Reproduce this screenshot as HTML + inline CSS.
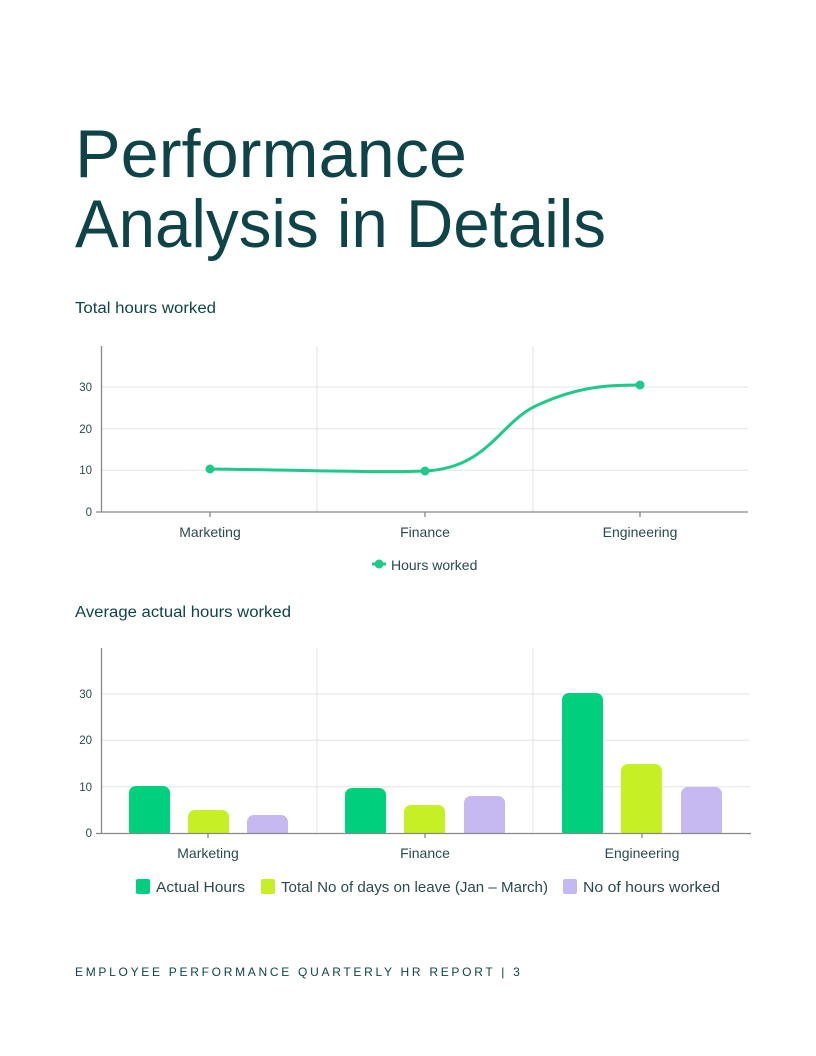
<!DOCTYPE html>
<html><head><meta charset="utf-8"><style>
html,body{margin:0;padding:0;background:#fff;}
svg{display:block;font-family:"Liberation Sans",sans-serif;}
</style></head><body>
<svg width="816" height="1056" viewBox="0 0 816 1056" xmlns="http://www.w3.org/2000/svg">
<rect width="816" height="1056" fill="#fff"/>
<g fill="#0e4448">
<text x="75" y="177" font-size="68" textLength="392" lengthAdjust="spacingAndGlyphs">Performance</text>
<text x="75" y="247" font-size="68" textLength="531" lengthAdjust="spacingAndGlyphs">Analysis in Details</text>
<text x="75" y="313" font-size="15.5" textLength="141" lengthAdjust="spacingAndGlyphs">Total hours worked</text>
<text x="75" y="617" font-size="15.5" textLength="216" lengthAdjust="spacingAndGlyphs">Average actual hours worked</text>
<text x="75" y="976" font-size="12" letter-spacing="3.2" textLength="448" lengthAdjust="spacing">EMPLOYEE PERFORMANCE QUARTERLY HR REPORT | 3</text>
</g>
<!-- line chart -->
<g stroke="#e3e3e3" stroke-width="1">
<line x1="101" y1="387" x2="748" y2="387"/><line x1="101" y1="428.7" x2="748" y2="428.7"/><line x1="101" y1="470.3" x2="748" y2="470.3"/>
<line x1="317" y1="346" x2="317" y2="512"/><line x1="533" y1="346" x2="533" y2="512"/>
</g>
<g stroke="#888" stroke-width="1.3">
<line x1="101.5" y1="346" x2="101.5" y2="512"/><line x1="96" y1="512" x2="748" y2="512"/>
<line x1="210" y1="512" x2="210" y2="517"/><line x1="425" y1="512" x2="425" y2="517"/><line x1="640" y1="512" x2="640" y2="517"/>
</g>
<g fill="#2a4a4e" font-size="11.5" text-anchor="end">
<text x="92" y="391">30</text><text x="92" y="433">20</text><text x="92" y="474">10</text><text x="92" y="516">0</text>
</g>
<g fill="#2a4a4e" font-size="14" text-anchor="middle">
<text x="210" y="537">Marketing</text><text x="425" y="537">Finance</text><text x="640" y="537">Engineering</text>
</g>
<path d="M210 469 C300 470 380 473 425 471 C490 468 500 420 540 404 C580 386 610 385 640 385" fill="none" stroke="#1fc987" stroke-width="3"/>
<g fill="#1fc987"><circle cx="210" cy="469" r="4.5"/><circle cx="425" cy="471" r="4.5"/><circle cx="640" cy="385" r="4.5"/>
<line x1="372" y1="564" x2="386" y2="564" stroke="#1fc987" stroke-width="3"/><circle cx="379" cy="564" r="4.5"/></g>
<text x="391" y="570" fill="#2a4a4e" font-size="14">Hours worked</text>
<!-- bar chart -->
<g stroke="#e3e3e3" stroke-width="1">
<line x1="101" y1="694" x2="750" y2="694"/><line x1="101" y1="740.3" x2="750" y2="740.3"/><line x1="101" y1="786.7" x2="750" y2="786.7"/>
<line x1="317" y1="648" x2="317" y2="833"/><line x1="533" y1="648" x2="533" y2="833"/>
</g>
<g fill="#2a4a4e" font-size="11.5" text-anchor="end">
<text x="92" y="698">30</text><text x="92" y="744">20</text><text x="92" y="791">10</text><text x="92" y="837">0</text>
</g>
<g>
<rect x="129" y="786" width="41" height="52" rx="7" fill="#00d07e"/>
<rect x="188" y="810" width="41" height="28" rx="7" fill="#c5f026"/>
<rect x="247" y="815" width="41" height="23" rx="7" fill="#c6b8f0"/>
<rect x="345" y="788" width="41" height="50" rx="7" fill="#00d07e"/>
<rect x="404" y="805" width="41" height="33" rx="7" fill="#c5f026"/>
<rect x="464" y="796" width="41" height="42" rx="7" fill="#c6b8f0"/>
<rect x="562" y="693" width="41" height="145" rx="7" fill="#00d07e"/>
<rect x="621" y="764" width="41" height="74" rx="7" fill="#c5f026"/>
<rect x="681" y="787" width="41" height="51" rx="7" fill="#c6b8f0"/>
</g>
<rect x="101" y="834" width="650" height="8" fill="#fff"/>
<g stroke="#888" stroke-width="1.3">
<line x1="101.5" y1="648" x2="101.5" y2="833"/><line x1="96" y1="833.5" x2="751" y2="833.5"/>
<line x1="208" y1="833" x2="208" y2="838"/><line x1="425" y1="833" x2="425" y2="838"/><line x1="642" y1="833" x2="642" y2="838"/>
</g>
<g fill="#2a4a4e" font-size="14" text-anchor="middle">
<text x="208" y="858">Marketing</text><text x="425" y="858">Finance</text><text x="642" y="858">Engineering</text>
</g>
<rect x="136" y="879" width="14" height="15" rx="2" fill="#00d07e"/>
<text x="156" y="892" fill="#2a4a4e" font-size="15" textLength="89" lengthAdjust="spacingAndGlyphs">Actual Hours</text>
<rect x="261" y="879" width="14" height="15" rx="2" fill="#c5f026"/>
<text x="281" y="892" fill="#2a4a4e" font-size="15" textLength="267" lengthAdjust="spacingAndGlyphs">Total No of days on leave (Jan – March)</text>
<rect x="563" y="879" width="14" height="15" rx="2" fill="#c6b8f0"/>
<text x="583" y="892" fill="#2a4a4e" font-size="15" textLength="137" lengthAdjust="spacingAndGlyphs">No of hours worked</text>
</svg>
</body></html>
